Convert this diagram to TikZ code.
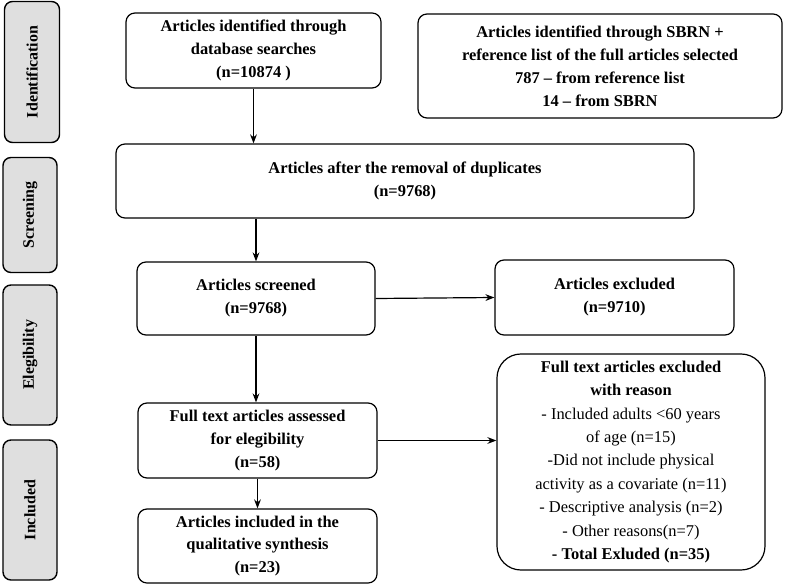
\documentclass[tikz,border=0pt]{standalone}
\usepackage{fontspec}
\setmainfont{Liberation Serif}
\usetikzlibrary{arrows.meta,positioning}
\tikzset{
  box/.style={draw, line width=1.2pt, rounded corners=9pt, align=center, font=\bfseries\fontsize{16.5}{23}\selectfont, inner sep=1pt},
  side/.style={draw, line width=1.4pt, rounded corners=8pt, fill=gray!25, font=\bfseries\fontsize{16}{18}\selectfont},
  arr/.style={-{Stealth[length=9pt]}, line width=1.2pt}
}
\begin{document}
\begin{tikzpicture}[x=1bp,y=-1bp]
\useasboundingbox (0,0) rectangle (785,585);
% stage bars
\node[side, minimum width=141bp, minimum height=55bp, rotate=90] (id) at (32,72) {Identification};
\node[side, minimum width=115bp, minimum height=54bp, rotate=90] (scr) at (30,215) {Screening};
\node[side, minimum width=140bp, minimum height=54bp, rotate=90] (eli) at (30,355) {Elegibility};
\node[side, minimum width=140bp, minimum height=54bp, rotate=90] (inc) at (30,510) {Included};
% boxes
\node[box, minimum width=255bp, minimum height=75bp] (db) at (253.5,50.5) {Articles identified through\\database searches\\(n=10874 )};
\node[box, minimum width=364bp, minimum height=104bp] (sbrn) at (600,66) {Articles identified through SBRN +\\reference list of the full articles selected\\787 -- from reference list\\14 -- from SBRN};
\node[box, minimum width=578bp, minimum height=74bp] (dup) at (405,181) {Articles after the removal of duplicates\\(n=9768)};
\node[box, minimum width=238bp, minimum height=73bp] (scrd) at (256,298.5) {Articles screened\\(n=9768)};
\node[box, minimum width=239bp, minimum height=75bp] (excl) at (614.5,297.5) {Articles excluded\\(n=9710)};
\node[box, minimum width=239bp, minimum height=75bp] (full) at (257.5,440.5) {Full text articles assessed\\for elegibility\\(n=58)};
\node[box, minimum width=239bp, minimum height=74bp] (incl) at (257.5,546) {Articles included in the\\qualitative synthesis\\(n=23)};
\node[box, rounded corners=24pt, minimum width=268bp, minimum height=216bp, font=\fontsize{16.5}{23.5}\selectfont] (why) at (631,462) {\textbf{Full text articles excluded}\\\textbf{with reason}\\
  - Included adults <60 years\\of age (n=15)\\
  -Did not include physical\\activity as a covariate (n=11)\\
  - Descriptive analysis (n=2)\\- Other reasons(n=7)\\
  \textbf{- Total Exluded (n=35)}};
% arrows
\draw[arr] (db.south) -- (db.south |- dup.north);
\draw[arr] (scrd.north |- dup.south) -- (scrd.north);
\draw[arr] (scrd.east) -- (excl.west);
\draw[arr] (scrd.south) -- (scrd.south |- full.north);
\draw[arr] (full.east) -- (full.east -| why.west);
\draw[arr] (full.south) -- (incl.north);
\end{tikzpicture}
\end{document}
